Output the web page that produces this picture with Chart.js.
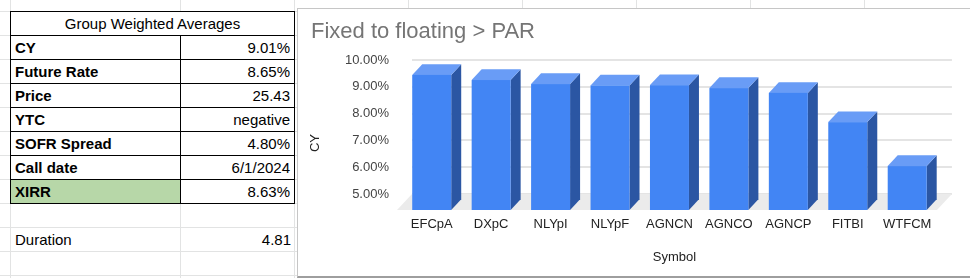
<!DOCTYPE html>
<html>
<head>
<meta charset="utf-8">
<script src="https://cdn.jsdelivr.net/npm/chart.js@4.4.1/dist/chart.umd.min.js"></script>
<style>
  body { margin: 0; width: 970px; height: 278px; overflow: hidden; background: #fff; position: relative;
         font-family: Arial, "Liberation Sans", sans-serif; }
  .gl { position: absolute; background: #e2e3e3; }
  #tbl { position: absolute; left: 10px; top: 11px; border-top: 1px solid #000; border-left: 1px solid #000;
         display: grid; grid-template-columns: 170px 114px; grid-auto-rows: 24px; background: #fff; }
  #tbl div, .free { box-sizing: border-box; padding: 0 4px; font-size: 15px; line-height: 23px; white-space: nowrap; color: #000; }
  #tbl div { border-right: 1px solid #000; border-bottom: 1px solid #000; }
  #tbl .head { grid-column: span 2; text-align: center; }
  #tbl .lab { font-weight: bold; }
  #tbl .val, .free.val { text-align: right; }
  #tbl .green { background: #b7d7a8; }
  .free { position: absolute; height: 24px; }
  #panel { position: absolute; left: 297px; top: 8px; width: 700px; height: 267px; background: #fff;
           border: 1px solid #c6c6c6; border-bottom: 2px solid #9e9e9e; }
  #chart { position: absolute; left: 0; top: 0; }
</style>
</head>
<body>
<div id="tbl"></div>
<div id="panel"><canvas id="chart" width="672" height="267"></canvas></div>
<script>
// sheet table
const tableTitle = 'Group Weighted Averages';
const tableLabels = ['CY', 'Future Rate', 'Price', 'YTC', 'SOFR Spread', 'Call date', 'XIRR'];
const tableValues = ['9.01%', '8.65%', '25.43', 'negative', '4.80%', '6/1/2024', '8.63%'];
const extraLabel = 'Duration';
const extraValue = '4.81';

// chart data
const symbols = ['EFCpA', 'DXpC', 'NLYpI', 'NLYpF', 'AGNCN', 'AGNCO', 'AGNCP', 'FITBI', 'WTFCM'];
const cy = [10.04, 9.85, 9.70, 9.65, 9.66, 9.55, 9.37, 8.28, 6.64];
const yMin = 5;
const yMax = 10;
const yStep = 1;

// spreadsheet grid lines behind everything
const colLines = [10, 180, 294, 408, 522, 636, 750, 864];
const rowLines = [11, 35, 59, 83, 107, 131, 155, 179, 203, 227, 251, 275];
colLines.forEach(x => {
	const d = document.createElement('div');
	d.className = 'gl';
	d.style.cssText = `left:${x}px;top:0;width:1px;height:278px`;
	document.body.prepend(d);
});
rowLines.forEach(y => {
	const d = document.createElement('div');
	d.className = 'gl';
	d.style.cssText = `left:0;top:${y}px;width:970px;height:1px`;
	document.body.prepend(d);
});

const tbl = document.getElementById('tbl');
tbl.innerHTML = `<div class="head">${tableTitle}</div>` +
	tableLabels.map((l, i) =>
		`<div class="lab${l === 'XIRR' ? ' green' : ''}">${l}</div><div class="val">${tableValues[i]}</div>`).join('');

document.body.insertAdjacentHTML('beforeend',
	`<div class="free" style="left:11px;top:228px;width:170px">${extraLabel}</div>` +
	`<div class="free val" style="left:181px;top:228px;width:114px">${extraValue}</div>`);


Chart.defaults.font.family = 'Arial, "Liberation Sans", sans-serif';
Chart.defaults.font.size = 13;

const DX = -15, DY = 16;        // back wall -> front of floor
const BX = 10, BY = -10.7;      // bar depth
const WALL_PAD = 5;             // back wall starts a bit left of the category band

const bars3d = {
	id: 'bars3d',
	beforeDatasetsDraw(chart) {
		const {ctx, chartArea: a, scales: {y}} = chart;
		ctx.save();
		// back wall grid
		ctx.strokeStyle = '#e4e4e4';
		ctx.lineWidth = 2;
		y.ticks.forEach(t => {
			const py = Math.round(y.getPixelForValue(t.value));
			ctx.beginPath();
			ctx.moveTo(a.left - WALL_PAD, py);
			ctx.lineTo(a.right, py);
			ctx.stroke();
		});
		// floor
		const fy = y.getPixelForValue(yMin);
		ctx.fillStyle = '#ebebeb';
		ctx.beginPath();
		ctx.moveTo(a.left - WALL_PAD, fy);
		ctx.lineTo(a.right, fy);
		ctx.lineTo(a.right + DX, fy + DY);
		ctx.lineTo(a.left - WALL_PAD + DX, fy + DY);
		ctx.closePath();
		ctx.fill();
		ctx.restore();
	},
	afterDatasetsDraw(chart) {
		const {ctx, chartArea: a} = chart;
		const meta = chart.getDatasetMeta(0);
		ctx.save();
		meta.data.forEach(el => {
			const p = el.getProps(['x', 'y', 'base', 'width'], true);
			const x0 = p.x + DX - p.width / 2, x1 = x0 + p.width;
			const top = p.y + DY, bot = p.base + DY;
			// side
			ctx.fillStyle = '#2b56a3';
			ctx.beginPath();
			ctx.moveTo(x1, top); ctx.lineTo(x1 + BX, top + BY); ctx.lineTo(x1 + BX, bot + BY); ctx.lineTo(x1, bot);
			ctx.closePath(); ctx.fill();
			// top
			ctx.fillStyle = '#699cf6';
			ctx.beginPath();
			ctx.moveTo(x0, top); ctx.lineTo(x1, top); ctx.lineTo(x1 + BX, top + BY); ctx.lineTo(x0 + BX, top + BY);
			ctx.closePath(); ctx.fill();
			// front
			ctx.fillStyle = '#4285f4';
			ctx.fillRect(x0, top, p.width, bot - top);
		});
		// axis titles
		ctx.fillStyle = '#222';
		ctx.font = '13px Arial, "Liberation Sans", sans-serif';
		ctx.textAlign = 'center';
		ctx.textBaseline = 'middle';
		ctx.fillText('Symbol', (a.left - WALL_PAD + a.right) / 2 + DX / 2, 248);
		ctx.translate(17, (a.top + a.bottom) / 2 + DY);
		ctx.rotate(-Math.PI / 2);
		ctx.fillText('CY', 0, 0);
		ctx.restore();
	}
};

new Chart(document.getElementById('chart').getContext('2d'), {
	type: 'bar',
	data: {
		labels: symbols,
		datasets: [{
			data: cy,
			base: yMin,
			backgroundColor: 'rgba(0,0,0,0)',
			borderWidth: 0,
			categoryPercentage: 1,
			barPercentage: 0.656
		}]
	},
	options: {
		responsive: false,
		animation: false,
		events: [],
		layout: { padding: { left: 13, right: 11, top: 0, bottom: 0 } },
		plugins: {
			legend: { display: false },
			tooltip: { enabled: false },
			title: {
				display: true,
				text: 'Fixed to floating > PAR',
				align: 'start',
				color: '#757575',
				font: { size: 22, weight: 'normal' },
				padding: { top: 10, bottom: 14.6 }
			}
		},
		scales: {
			x: {
				grid: { display: false, drawTicks: false },
				border: { display: false },
				ticks: { color: '#222', padding: 23, labelOffset: DX, maxRotation: 0, autoSkip: false },
				afterFit: s => { s.height = 82; }
			},
			y: {
				min: yMin,
				max: yMax,
				grid: { display: false, drawTicks: false },
				border: { display: false },
				ticks: { stepSize: yStep, color: '#444', padding: 28, callback: v => v.toFixed(2) + '%' },
				afterFit: s => { s.width = 106; }
			}
		}
	},
	plugins: [bars3d]
});
</script>
</body>
</html>
